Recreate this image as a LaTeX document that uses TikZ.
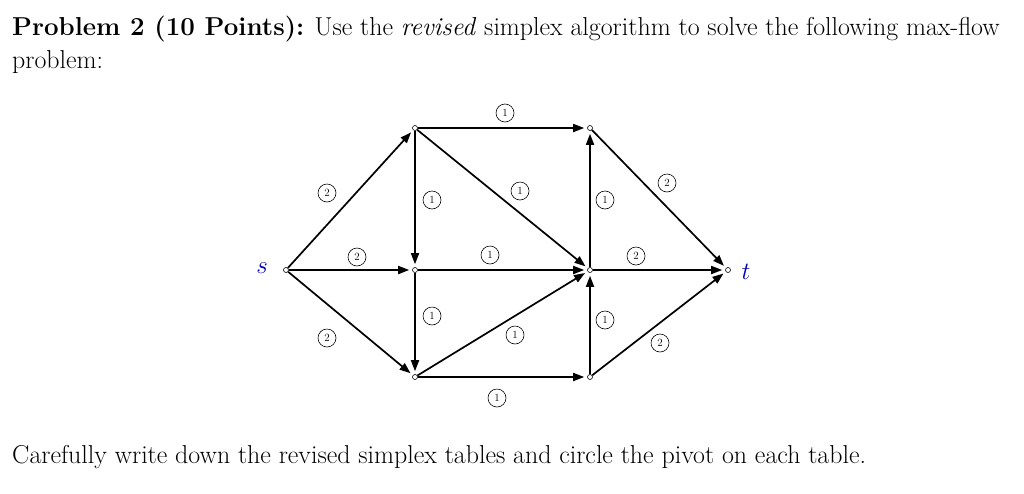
\documentclass[tikz,border=0pt]{standalone}
\usetikzlibrary{arrows.meta}
\begin{document}
\begin{tikzpicture}[x=1pt,y=-1pt,
  vtx/.style={circle,draw,fill=white,inner sep=0pt,minimum size=5pt,line width=0.6pt},
  edge/.style={line width=1.7pt,-{Triangle[length=11pt,width=8pt]},shorten >=3pt},
  capnum/.style={circle,draw,line width=0.6pt,inner sep=0pt,minimum size=18pt,font=\fontsize{11}{11}\selectfont,fill=white},
  txt/.style={anchor=base west,inner sep=0pt,font=\fontsize{25.9}{30}\selectfont}]
\useasboundingbox (0,0) rectangle (1024,493);
\node[txt] (l1) at (12,35) {\textbf{Problem 2 (10 Points):} Use the \emph{revised} simplex algorithm to solve the following max-flow};
\node[txt] (l2) at (12,68) {problem:};
\node[txt] (l3) at (12,463) {Carefully write down the revised simplex tables and circle the pivot on each table.};
\node[vtx] (s) at (286,270) {};
\node[vtx] (a) at (415,128) {};
\node[vtx] (b) at (415,270) {};
\node[vtx] (c) at (415,377) {};
\node[vtx] (d) at (590,128) {};
\node[vtx] (e) at (590,270) {};
\node[vtx] (f) at (590,377) {};
\node[vtx] (t) at (728,270) {};
\node[font=\fontsize{28}{28}\selectfont\itshape,text=blue!70!black] (sl) at (262,268) {$s$};
\node[font=\fontsize{28}{28}\selectfont\itshape,text=blue!70!black] (tl) at (746,272) {$t$};
\draw[edge] (s)--(a); \draw[edge] (s)--(b); \draw[edge] (s)--(c);
\draw[edge] (a)--(d); \draw[edge] (a)--(b); \draw[edge] (a)--(e);
\draw[edge] (b)--(e); \draw[edge] (b)--(c);
\draw[edge] (c)--(e); \draw[edge] (c)--(f);
\draw[edge] (e)--(d); \draw[edge] (f)--(e);
\draw[edge] (d)--(t); \draw[edge] (e)--(t); \draw[edge] (f)--(t);
\foreach \n/\x/\y/\v in {c1/327/193/2,c2/357/257/2,c3/327/338/2,c4/505/113/1,c5/432/200/1,c6/520/191/1,c7/490/255/1,c8/432/316/1,c9/515/335/1,c10/497/398/1,c11/605/200/1,c12/605/320/1,c13/667/183/2,c14/636/256/2,c15/660/343/2}
  \node[capnum] (\n) at (\x,\y) {\v};
\end{tikzpicture}
\end{document}
